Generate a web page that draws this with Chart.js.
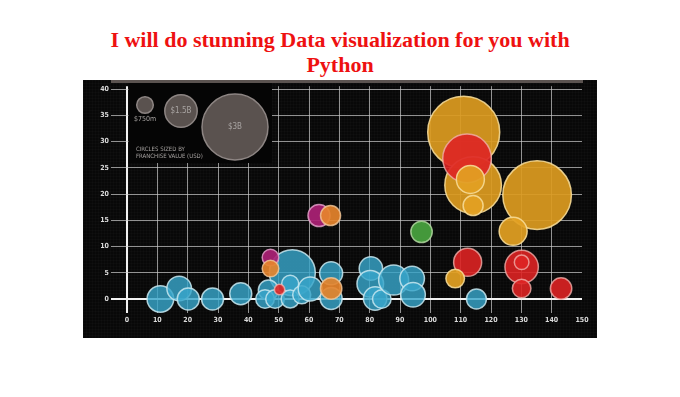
<!DOCTYPE html>
<html>
<head>
<meta charset="utf-8">
<script src="https://cdn.jsdelivr.net/npm/chart.js@4.4.1/dist/chart.umd.min.js"></script>
<style>
  html, body { margin: 0; padding: 0; background: #fff; }
  body { width: 680px; height: 397px; position: relative; overflow: hidden; }
  #title {
    position: absolute; left: 0; top: 27px; width: 680px;
    text-align: center; color: #ee1111;
    font: bold 22px/25px "Liberation Serif", "DejaVu Serif", serif;
  }
  #panel { position: absolute; left: 83px; top: 80px; width: 514px; height: 258px; background: #080808; }
  #bar { position: absolute; left: 111px; top: 80px; width: 472px; height: 3px; background: #5b5350; }
  canvas { position: absolute; left: 0; top: 0; }
</style>
</head>
<body>
<div id="title">I will do stunning Data visualization for you with<br>Python</div>
<div id="panel"><canvas id="chart" width="514" height="258"></canvas></div>
<div id="bar"></div>
<script>
// [x, y, radius(px)]
const blue = [
  [11.0, 0, 13.3], [17.2, 2.0, 12.3], [20.2, 0, 11], [28.2, 0, 11], [37.5, 1.0, 11],
  [54.5, 5.0, 23], [46.6, 1.7, 10], [45.5, 0, 9.3], [48.8, 0, 9.3], [53.8, 2.9, 8.5],
  [53.8, 0, 9], [57.6, 0.8, 9], [60.4, 1.9, 12], [67.3, 4.9, 11.5], [67.3, 0.1, 11],
  [80.4, 5.8, 11.7], [80.2, 2.9, 13.3], [81.8, 0.1, 11.7], [84.0, 0, 9.3], [87.9, 3.6, 15],
  [94.0, 3.9, 12.3], [94.3, 0.8, 12.3], [115.2, 0, 10]
]
const goldBack = [[111.0, 31.8, 36], [135.2, 19.8, 34.3], [114.1, 21.7, 28.3]]
const red = [
  [112.1, 26.8, 24.3], [112.3, 7.0, 14], [130.1, 6.1, 16.7], [130.1, 7.0, 7.3],
  [130.1, 2.0, 9.3], [143.1, 2.0, 10.7], [50.3, 1.8, 5.2]
]
const goldFront = [[113.2, 22.8, 14], [114.1, 17.8, 10], [127.3, 12.9, 14], [108.2, 3.9, 9.3]]
const orange = [[47.3, 5.8, 8.3], [67.3, 2.0, 10.7], [67.1, 15.9, 10]]
const magenta = [[47.3, 7.9, 8.3], [63.3, 15.9, 11]]
const green = [[97.1, 12.8, 10.7]]

const sizeLegend = ['$750m', '$1.5B', '$3B']

const toPoints = arr => arr.map(p => ({ x: p[0], y: p[1], r: p[2] }))

function series(arr, fill, border) {
  return {
    data: toPoints(arr),
    backgroundColor: fill,
    borderColor: border,
    borderWidth: 1.5,
    clip: false
  }
}

const gridColor = ctx => {
  if (ctx.tick && ctx.tick.value === 0) return '#f2f2f2'
  if (ctx.tick && ctx.tick.value === 150) return 'rgba(0,0,0,0)'
  return 'rgba(205,205,205,0.7)'
}
const gridWidth = ctx => (ctx.tick && ctx.tick.value === 0 ? 2 : 1)

const backdrop = {
  id: 'backdrop',
  beforeDraw(chart) {
    const c = chart.ctx
    c.save()
    c.strokeStyle = 'rgba(255,255,255,0.02)'
    c.lineWidth = 1
    for (let x = 0.5; x < chart.width; x += 3) {
      c.beginPath(); c.moveTo(x, 0); c.lineTo(x, chart.height); c.stroke()
    }
    for (let y = 0.5; y < chart.height; y += 3) {
      c.beginPath(); c.moveTo(0, y); c.lineTo(chart.width, y); c.stroke()
    }
    c.restore()
  },
  beforeDatasetsDraw(chart) {
    // size legend box in the top left corner
    const c = chart.ctx
    const left = chart.chartArea.left + 1.5
    c.save()
    c.fillStyle = '#050505'
    c.fillRect(left, 3, 189 - left, 80)
    const circles = [[62, 25, 8.3], [98, 31, 16.2], [152, 47, 33]]
    circles.forEach(([cx, cy, r]) => {
      c.beginPath()
      c.arc(cx, cy, r, 0, Math.PI * 2)
      c.fillStyle = '#5a524f'
      c.fill()
      c.lineWidth = 1.5
      c.strokeStyle = '#8d8583'
      c.stroke()
    })
    c.fillStyle = '#a8a4a2'
    c.textAlign = 'center'
    c.textBaseline = 'middle'
    c.font = '7px "DejaVu Sans Condensed", "DejaVu Sans", sans-serif'
    c.fillText(sizeLegend[0], 62, 39)
    c.font = '8px "DejaVu Sans Condensed", "DejaVu Sans", sans-serif'
    c.fillText(sizeLegend[1], 98, 31)
    c.fillText(sizeLegend[2], 152, 47)
    c.textAlign = 'left'
    c.font = '6px "DejaVu Sans Condensed", "DejaVu Sans", sans-serif'
    c.fillText('CIRCLES SIZED BY', 53, 69)
    c.fillText('FRANCHISE VALUE (USD)', 53, 76.5)
    c.restore()
  }
}

const tickFont = { family: '"DejaVu Sans Condensed", "DejaVu Sans", sans-serif', size: 7, weight: 'bold' }

new Chart(document.getElementById('chart'), {
  type: 'bubble',
  data: {
    datasets: [
      series(goldFront, 'rgba(226,160,34,0.93)', 'rgba(246,218,150,0.9)'),
      series(orange, 'rgba(230,132,44,0.92)', 'rgba(240,196,150,0.85)'),
      series(magenta, 'rgba(172,34,118,0.92)', 'rgba(225,160,200,0.85)'),
      series(green, 'rgba(72,160,62,0.95)', 'rgba(178,215,160,0.85)'),
      series(red, 'rgba(222,36,36,0.9)', 'rgba(240,175,170,0.8)'),
      series(goldBack, 'rgba(220,155,32,0.93)', 'rgba(246,218,150,0.9)'),
      series(blue, 'rgba(56,166,202,0.82)', 'rgba(200,232,240,0.85)')
    ]
  },
  options: {
    responsive: false,
    animation: false,
    devicePixelRatio: 1,
    layout: { autoPadding: false, padding: { top: 3, right: 15, left: 0, bottom: 0 } },
    plugins: { legend: { display: false }, tooltip: { enabled: false } },
    scales: {
      x: {
        type: 'linear',
        min: 0,
        max: 150,
        afterFit: s => { s.height = 39 },
        border: { display: false },
        grid: { color: gridColor, lineWidth: gridWidth, tickLength: 14 },
        ticks: { stepSize: 10, color: '#dcdcdc', font: tickFont, padding: 3, maxRotation: 0 }
      },
      y: {
        type: 'linear',
        min: 0,
        max: 40.56,
        afterFit: s => { s.width = 44 },
        border: { display: false },
        grid: { color: gridColor, lineWidth: gridWidth, tickLength: 16 },
        ticks: { stepSize: 5, includeBounds: false, color: '#dcdcdc', font: tickFont, padding: 2 }
      }
    }
  },
  plugins: [backdrop]
})
</script>
</body>
</html>
